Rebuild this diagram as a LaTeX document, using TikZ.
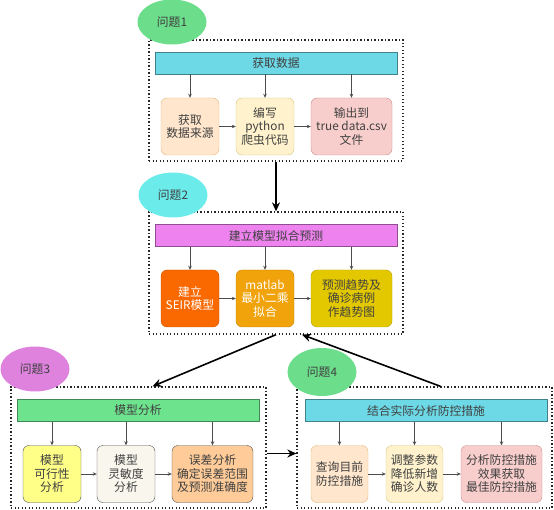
\documentclass[tikz,border=0pt]{standalone}
\usepackage{fontspec}
\setmainfont{Noto Sans CJK SC}
\usetikzlibrary{arrows.meta,shapes.geometric}

\definecolor{qgreen}{HTML}{6BDD8B}
\definecolor{qcyan}{HTML}{6CEBEB}
\definecolor{qpink}{HTML}{DE82DE}
\definecolor{hcyan}{HTML}{6DD8E6}
\definecolor{hviolet}{HTML}{EE82EE}
\definecolor{hgreen}{HTML}{6EE38E}
\definecolor{lorange}{HTML}{FFE6CC}
\definecolor{lorangeb}{HTML}{E0B77A}
\definecolor{lyellow}{HTML}{FFF2CC}
\definecolor{lyellowb}{HTML}{D6C47A}
\definecolor{lred}{HTML}{F8CECC}
\definecolor{lredb}{HTML}{C98A88}
\definecolor{dorange}{HTML}{FA6800}
\definecolor{dorangeb}{HTML}{D05600}
\definecolor{amber}{HTML}{F0A30A}
\definecolor{amberb}{HTML}{C88808}
\definecolor{gold}{HTML}{E3C800}
\definecolor{goldb}{HTML}{B8A200}
\definecolor{pyellow}{HTML}{FFFF88}
\definecolor{pwhite}{HTML}{F9F7ED}
\definecolor{porange}{HTML}{FFCC99}

\tikzset{
  problem/.style={ellipse,draw=none,minimum width=69pt,minimum height=45pt,text=black!75},
  panel/.style={draw=black!85,line width=1.3pt,dash pattern=on 1.3pt off 2.2pt},
  header/.style={draw=#1!60!black,fill=#1,minimum width=242pt,minimum height=22pt,inner sep=0pt,text=black!75},
  stepbox/.style 2 args={draw=#2,fill=#1,rounded corners=6pt,minimum height=57pt,inner sep=1pt,align=center,text=black!75},
  smallarrow/.style={draw=black!70,line width=0.6pt,-{Stealth[length=4pt,width=3.5pt]}},
  bigarrow/.style={line width=1.6pt,-{Stealth[length=9pt,width=8pt]}}
}

\begin{document}
\begin{tikzpicture}[x=1pt,y=-1pt,font=\fontsize{11.8pt}{13.5pt}\selectfont]
\useasboundingbox (0,0) rectangle (554,510);
% problem 1
\node[panel,minimum width=254pt,minimum height=121pt] (p1) at (276,100.5) {};
\node[problem,fill=qgreen] (q1) at (172,22) {问题1};
\node[header=hcyan] (h1) at (276,63) {获取数据};
\node[stepbox={lorange}{lorangeb},minimum width=58pt] (b11) at (190,126.5) {获取\\数据来源};
\node[stepbox={lyellow}{lyellowb},minimum width=58pt] (b12) at (265,126.5) {编写\\python\\爬虫代码};
\node[stepbox={lred}{lredb},minimum width=81pt] (b13) at (351.5,126.5) {输出到\\true data.csv\\文件};
% problem 2
\node[panel,minimum width=254pt,minimum height=122pt] (p2) at (276,273) {};
\node[problem,fill=qcyan] (q2) at (173,195) {问题2};
\node[header=hviolet] (h2) at (276,235.5) {建立模型拟合预测};
\node[stepbox={dorange}{dorangeb},minimum width=58pt,text=white] (b21) at (190,298.5) {建立\\SEIR模型};
\node[stepbox={amber}{amberb},minimum width=58pt,text=white] (b22) at (265,298.5) {matlab\\最小二乘\\拟合};
\node[stepbox={gold}{goldb},minimum width=81pt] (b23) at (351.5,298.5) {预测趋势及\\确诊病例\\作趋势图};
% problem 3
\node[panel,minimum width=255pt,minimum height=121pt] (p3) at (138.5,447.5) {};
\node[problem,fill=qpink] (q3) at (35,369) {问题3};
\node[header=hgreen] (h3) at (138,410.5) {模型分析};
\node[stepbox={pyellow}{black!70},minimum width=58pt] (b31) at (52,474) {模型\\可行性\\分析};
\node[stepbox={pwhite}{black!70},minimum width=58pt] (b32) at (126,474) {模型\\灵敏度\\分析};
\node[stepbox={porange}{black!70},minimum width=81pt] (b33) at (212.5,474) {误差分析\\确定误差范围\\及预测准确度};
% problem 4
\node[panel,minimum width=255pt,minimum height=121pt] (p4) at (424.5,447.5) {};
\node[problem,fill=qgreen,minimum height=48pt] (q4) at (322,372) {问题4};
\node[header=hcyan] (h4) at (426,410.5) {结合实际分析防控措施};
\node[stepbox={lorange}{lorangeb},minimum width=57pt] (b41) at (339.5,474) {查询目前\\防控措施};
\node[stepbox={lyellow}{lyellowb},minimum width=57pt] (b42) at (414.5,474) {调整参数\\降低新增\\确诊人数};
\node[stepbox={lred}{lredb},minimum width=81pt] (b43) at (501.5,474) {分析防控措施\\效果获取\\最佳防控措施};
% arrows inside the panels
\foreach \h/\r in {h1/1,h2/2,h3/3,h4/4}{
  \foreach \c in {1,2,3}
    \draw[smallarrow] (\h.south -| b\r\c) -- (b\r\c);
  \draw[smallarrow] (b\r1) -- (b\r2);
  \draw[smallarrow] (b\r2) -- (b\r3);
}
% arrows between the panels
\draw[bigarrow] (p1.south) -- (p2.north);
\draw[bigarrow] (p2.south) -- ([xshift=14pt]p3.north);
\draw[bigarrow] ([xshift=16pt]p4.north) -- ([xshift=26pt]p2.south);
\draw[bigarrow] ([yshift=-6pt]p3.east) -- ([yshift=-6pt]p4.west);
\end{tikzpicture}
\end{document}
